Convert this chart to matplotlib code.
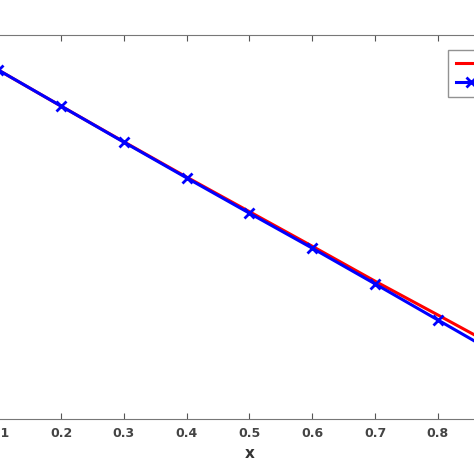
import matplotlib
matplotlib.use("Agg")
import matplotlib.pyplot as plt

x = [0.0, 0.1, 0.2, 0.3, 0.4, 0.5, 0.6, 0.7, 0.8, 0.9, 1.0]
y_exact = [1.0, 0.909, 0.815, 0.722, 0.630, 0.540, 0.450, 0.359, 0.271, 0.182, 0.094]
y_approx = [1.0, 0.909, 0.815, 0.721, 0.628, 0.536, 0.445, 0.352, 0.258, 0.164, 0.070]

fig = plt.figure(figsize=(4.74, 4.74), dpi=100)
# the reference is a crop of a wider plot, so the axes run past the figure edges
ax = fig.add_axes([-64.6 / 474, 55 / 474, 628 / 474, 384 / 474])

ax.plot(x, y_exact, color='red', lw=2.2, label='Exact')
ax.plot(x, y_approx, color='blue', lw=2.2, marker='x', ms=7, mew=2, label='Approx')

ax.set_xlim(0, 1)
ax.set_ylim(0, 1)
ax.set_xticks([0.1, 0.2, 0.3, 0.4, 0.5, 0.6, 0.7, 0.8, 0.9])
ax.set_xticklabels(['0.1', '0.2', '0.3', '0.4', '0.5', '0.6', '0.7', '0.8', '0.9'])
ax.set_yticks([])
ax.tick_params(axis='x', direction='in', length=4, color='#555555', top=True,
               labelsize=9, labelcolor='#444444', pad=6)
for t in ax.get_xticklabels():
    t.set_fontweight('bold')
for s in ax.spines.values():
    s.set_color('#777777')
ax.set_xlabel('x', fontsize=11, fontweight='bold', color='#333333', labelpad=4)

ax.legend(loc='upper left', bbox_to_anchor=(448 / 474, 1 - 50 / 474),
          bbox_transform=fig.transFigure, frameon=True, fancybox=False,
          edgecolor='#777777', handlelength=2.5, fontsize=9, borderaxespad=0,
          borderpad=0.6)

fig.savefig('out.png', dpi=100)
